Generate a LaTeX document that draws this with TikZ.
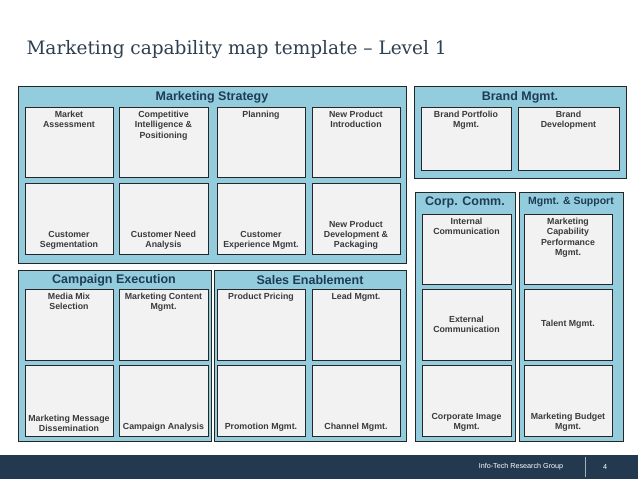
\documentclass[tikz,border=0pt]{standalone}
\usepackage{fontspec}
\setmainfont{Liberation Sans}
\newfontfamily\titlefont{DejaVu Serif}
\definecolor{cont}{HTML}{93CDDD}
\definecolor{boxf}{HTML}{F2F2F2}
\definecolor{txt}{HTML}{3A3A3A}
\definecolor{hdr}{HTML}{1F3B55}
\definecolor{bar}{HTML}{23394F}
\definecolor{ttl}{HTML}{2E3F50}
\begin{document}
\begin{tikzpicture}[x=1pt,y=-1pt,
  container/.style={draw=black!85,line width=0.8pt,fill=cont},
  capbox/.style={draw=black!85,line width=0.7pt,fill=boxf},
  lab/.style={font=\fontsize{8.8}{10.3}\selectfont\bfseries,text=txt,align=center,inner sep=1pt},
  head/.style={font=\fontsize{12.5}{14}\selectfont\bfseries,text=hdr,inner sep=0pt}]
\useasboundingbox (0,0) rectangle (638,479);
\fill[white] (0,0) rectangle (638,479);
\node[anchor=west,font=\titlefont\fontsize{18.5}{22}\selectfont,text=ttl] (title) at (23,50) {Marketing capability map template – Level 1};
% containers
\draw[container] (18,86) rectangle (406,263);
\node[head] (hms) at (212,97) {Marketing Strategy};
\draw[container] (414,86) rectangle (626,178);
\node[head] (hbm) at (520,97) {Brand Mgmt.};
\draw[container] (415,192) rectangle (515,441);
\node[head] (hcc) at (465,202) {Corp. Comm.};
\draw[container] (519,192) rectangle (623,441);
\node[head,font=\fontsize{10.5}{12}\selectfont\bfseries] (hsu) at (571,202) {Mgmt. \& Support};
\draw[container] (18,270) rectangle (211,441);
\node[head] (hce) at (114,280) {Campaign Execution};
\draw[container] (214,270) rectangle (406,441);
\node[head] (hse) at (310,280) {Sales Enablement};
% helper macros
\newcommand\capT[6]{\draw[capbox] (#1,#2) rectangle (#3,#4); \node[lab,anchor=north] (#6) at ({(#1+#3)/2},{#2+3}) {#5};}
\newcommand\capB[6]{\draw[capbox] (#1,#2) rectangle (#3,#4); \node[lab,anchor=south] (#6) at ({(#1+#3)/2},{#4-3}) {#5};}
\newcommand\capM[6]{\draw[capbox] (#1,#2) rectangle (#3,#4); \node[lab] (#6) at ({(#1+#3)/2},{(#2+#4)/2}) {#5};}
% Marketing strategy
\capT{25}{107}{113}{177}{Market\\Assessment}{a1}
\capT{119}{107}{208}{177}{Competitive\\Intelligence \&\\Positioning}{a2}
\capT{217}{107}{305}{177}{Planning}{a3}
\capT{312}{107}{400}{177}{New Product\\Introduction}{a4}
\capB{25}{183}{113}{254}{Customer\\Segmentation}{b1}
\capB{119}{183}{208}{254}{Customer Need\\Analysis}{b2}
\capB{217}{183}{305}{254}{Customer\\Experience Mgmt.}{b3}
\capB{312}{183}{400}{254}{New Product\\Development \&\\Packaging}{b4}
% Brand
\capT{421}{107}{511}{170}{Brand Portfolio\\Mgmt.}{c1}
\capT{518}{107}{619}{170}{Brand\\Development}{c2}
% Corp comm
\capT{422}{214}{511}{284}{Internal\\Communication}{d1}
\capM{422}{289}{511}{360}{External\\Communication}{d2}
\capB{422}{365}{511}{436}{Corporate Image\\Mgmt.}{d3}
% Mgmt support
\capT{524}{214}{612}{284}{Marketing\\Capability\\Performance\\Mgmt.}{e1}
\capM{524}{289}{612}{360}{Talent Mgmt.}{e2}
\capB{524}{365}{612}{436}{Marketing Budget\\Mgmt.}{e3}
% Campaign
\capT{25}{289}{113}{360}{Media Mix\\Selection}{f1}
\capT{119}{289}{208}{360}{Marketing Content\\Mgmt.}{f2}
\capB{25}{365}{113}{436}{Marketing Message\\Dissemination}{f3}
\capB{119}{365}{208}{436}{Campaign Analysis}{f4}
% Sales
\capT{217}{289}{305}{360}{Product Pricing}{g1}
\capT{312}{289}{400}{360}{Lead Mgmt.}{g2}
\capB{217}{365}{305}{436}{Promotion Mgmt.}{g3}
\capB{312}{365}{400}{436}{Channel Mgmt.}{g4}
% footer
\fill[bar] (0,455) rectangle (638,479);
\draw[white!60!bar] (585,457) -- (585,477);
\node[text=white,font=\fontsize{7.2}{9}\selectfont] (itrg) at (521,467) {Info-Tech Research Group};
\node[text=white,font=\fontsize{7.2}{9}\selectfont] (pg) at (605,467) {4};
\end{tikzpicture}
\end{document}
